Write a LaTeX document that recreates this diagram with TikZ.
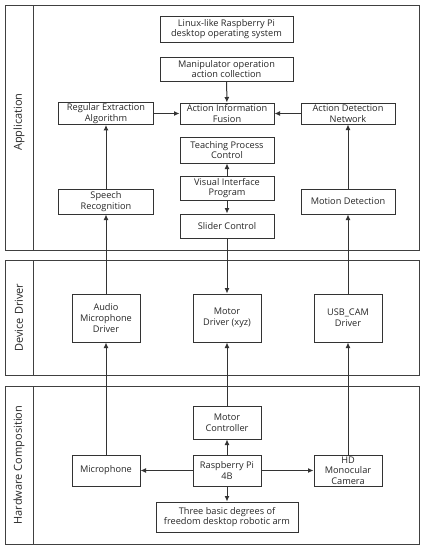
\documentclass[tikz,border=0pt]{standalone}
\usepackage{fontspec}
\setmainfont{Open Sans}
\usetikzlibrary{arrows.meta}
\begin{document}
\begin{tikzpicture}[x=1pt,y=-1pt,
  box/.style={draw=black!80, line width=1pt, align=center, inner sep=1pt,
    font=\fontsize{9.2}{10.6}\selectfont, text=black!85},
  layer/.style={draw=black!75, line width=1pt},
  lbl/.style={rotate=90, font=\fontsize{11}{12}\selectfont, text=black!85},
  arr/.style={draw=black!80, line width=1pt, -{Latex[length=5.5pt,width=5pt]}}]
\useasboundingbox (0,0) rectangle (425,550);
% layers
\draw[layer] (5,5) rectangle (419,250);
\draw[layer] (33,5) -- (33,250);
\node[lbl] (lapp) at (19,122) {Application};
\draw[layer] (5,260) rectangle (419,375);
\draw[layer] (33,260) -- (33,375);
\node[lbl] (ldev) at (19,317.5) {Device Driver};
\draw[layer] (5,386) rectangle (419,544);
\draw[layer] (33,386) -- (33,544);
\node[lbl] (lhw) at (19,465) {Hardware Composition};
% application nodes
\node[box, minimum width=133pt, minimum height=26pt] (linux) at (226.5,29) {Linux-like Raspberry Pi\\desktop operating system};
\node[box, minimum width=133pt, minimum height=24pt] (manip) at (226.5,69) {Manipulator operation\\action collection};
\node[box, minimum width=95pt, minimum height=21pt] (regex) at (106,113.5) {Regular Extraction\\Algorithm};
\node[box, minimum width=94pt, minimum height=21pt] (fusion) at (227,113.5) {Action Information\\Fusion};
\node[box, minimum width=94pt, minimum height=21pt] (detnet) at (348,113.5) {Action Detection\\Network};
\node[box, minimum width=94pt, minimum height=26pt] (teach) at (227,150) {Teaching Process\\Control};
\node[box, minimum width=94pt, minimum height=24pt] (visual) at (227,188) {Visual Interface\\Program};
\node[box, minimum width=94pt, minimum height=24pt] (slider) at (227,226) {Slider Control};
\node[box, minimum width=95pt, minimum height=25pt] (speech) at (106,201.5) {Speech\\Recognition};
\node[box, minimum width=94pt, minimum height=25pt] (motion) at (348,201.5) {Motion Detection};
% device driver nodes
\node[box, minimum width=68pt, minimum height=48pt] (audio) at (106,318) {Audio\\Microphone\\Driver};
\node[box, minimum width=68pt, minimum height=48pt] (motordrv) at (227,318) {Motor\\Driver (xyz)};
\node[box, minimum width=68pt, minimum height=48pt] (usbcam) at (348,318) {USB\_CAM\\Driver};
% hardware nodes
\node[box, minimum width=68pt, minimum height=33pt] (motorctl) at (227,422.5) {Motor\\Controller};
\node[box, minimum width=68pt, minimum height=31pt] (mic) at (106,470.5) {Microphone};
\node[box, minimum width=68pt, minimum height=31pt] (rpi) at (227,470.5) {Raspberry Pi\\4B};
\node[box, minimum width=68pt, minimum height=31pt, font=\fontsize{9.2}{10.4}\selectfont] (cam) at (348,470.5) {HD\\Monocular\\Camera};
\node[box, minimum width=142pt, minimum height=30pt] (arm) at (227,517) {Three basic degrees of\\freedom desktop robotic arm};
% connectors
\draw[arr] (manip) -- (fusion);
\draw[arr] (regex) -- (fusion);
\draw[arr] (detnet) -- (fusion);
\draw[arr] (speech) -- (regex);
\draw[arr] (motion) -- (detnet);
\draw[arr] (visual) -- (teach);
\draw[arr] (visual) -- (slider);
\draw[arr] (slider) -- (motordrv);
\draw[arr] (audio) -- (speech);
\draw[arr] (usbcam) -- (motion);
\draw[arr] (mic) -- (audio);
\draw[arr] (motorctl) -- (motordrv);
\draw[arr] (cam) -- (usbcam);
\draw[arr] (rpi) -- (motorctl);
\draw[arr] (rpi) -- (mic);
\draw[arr] (rpi) -- (cam);
\draw[arr] (rpi) -- (arm);
\end{tikzpicture}
\end{document}
